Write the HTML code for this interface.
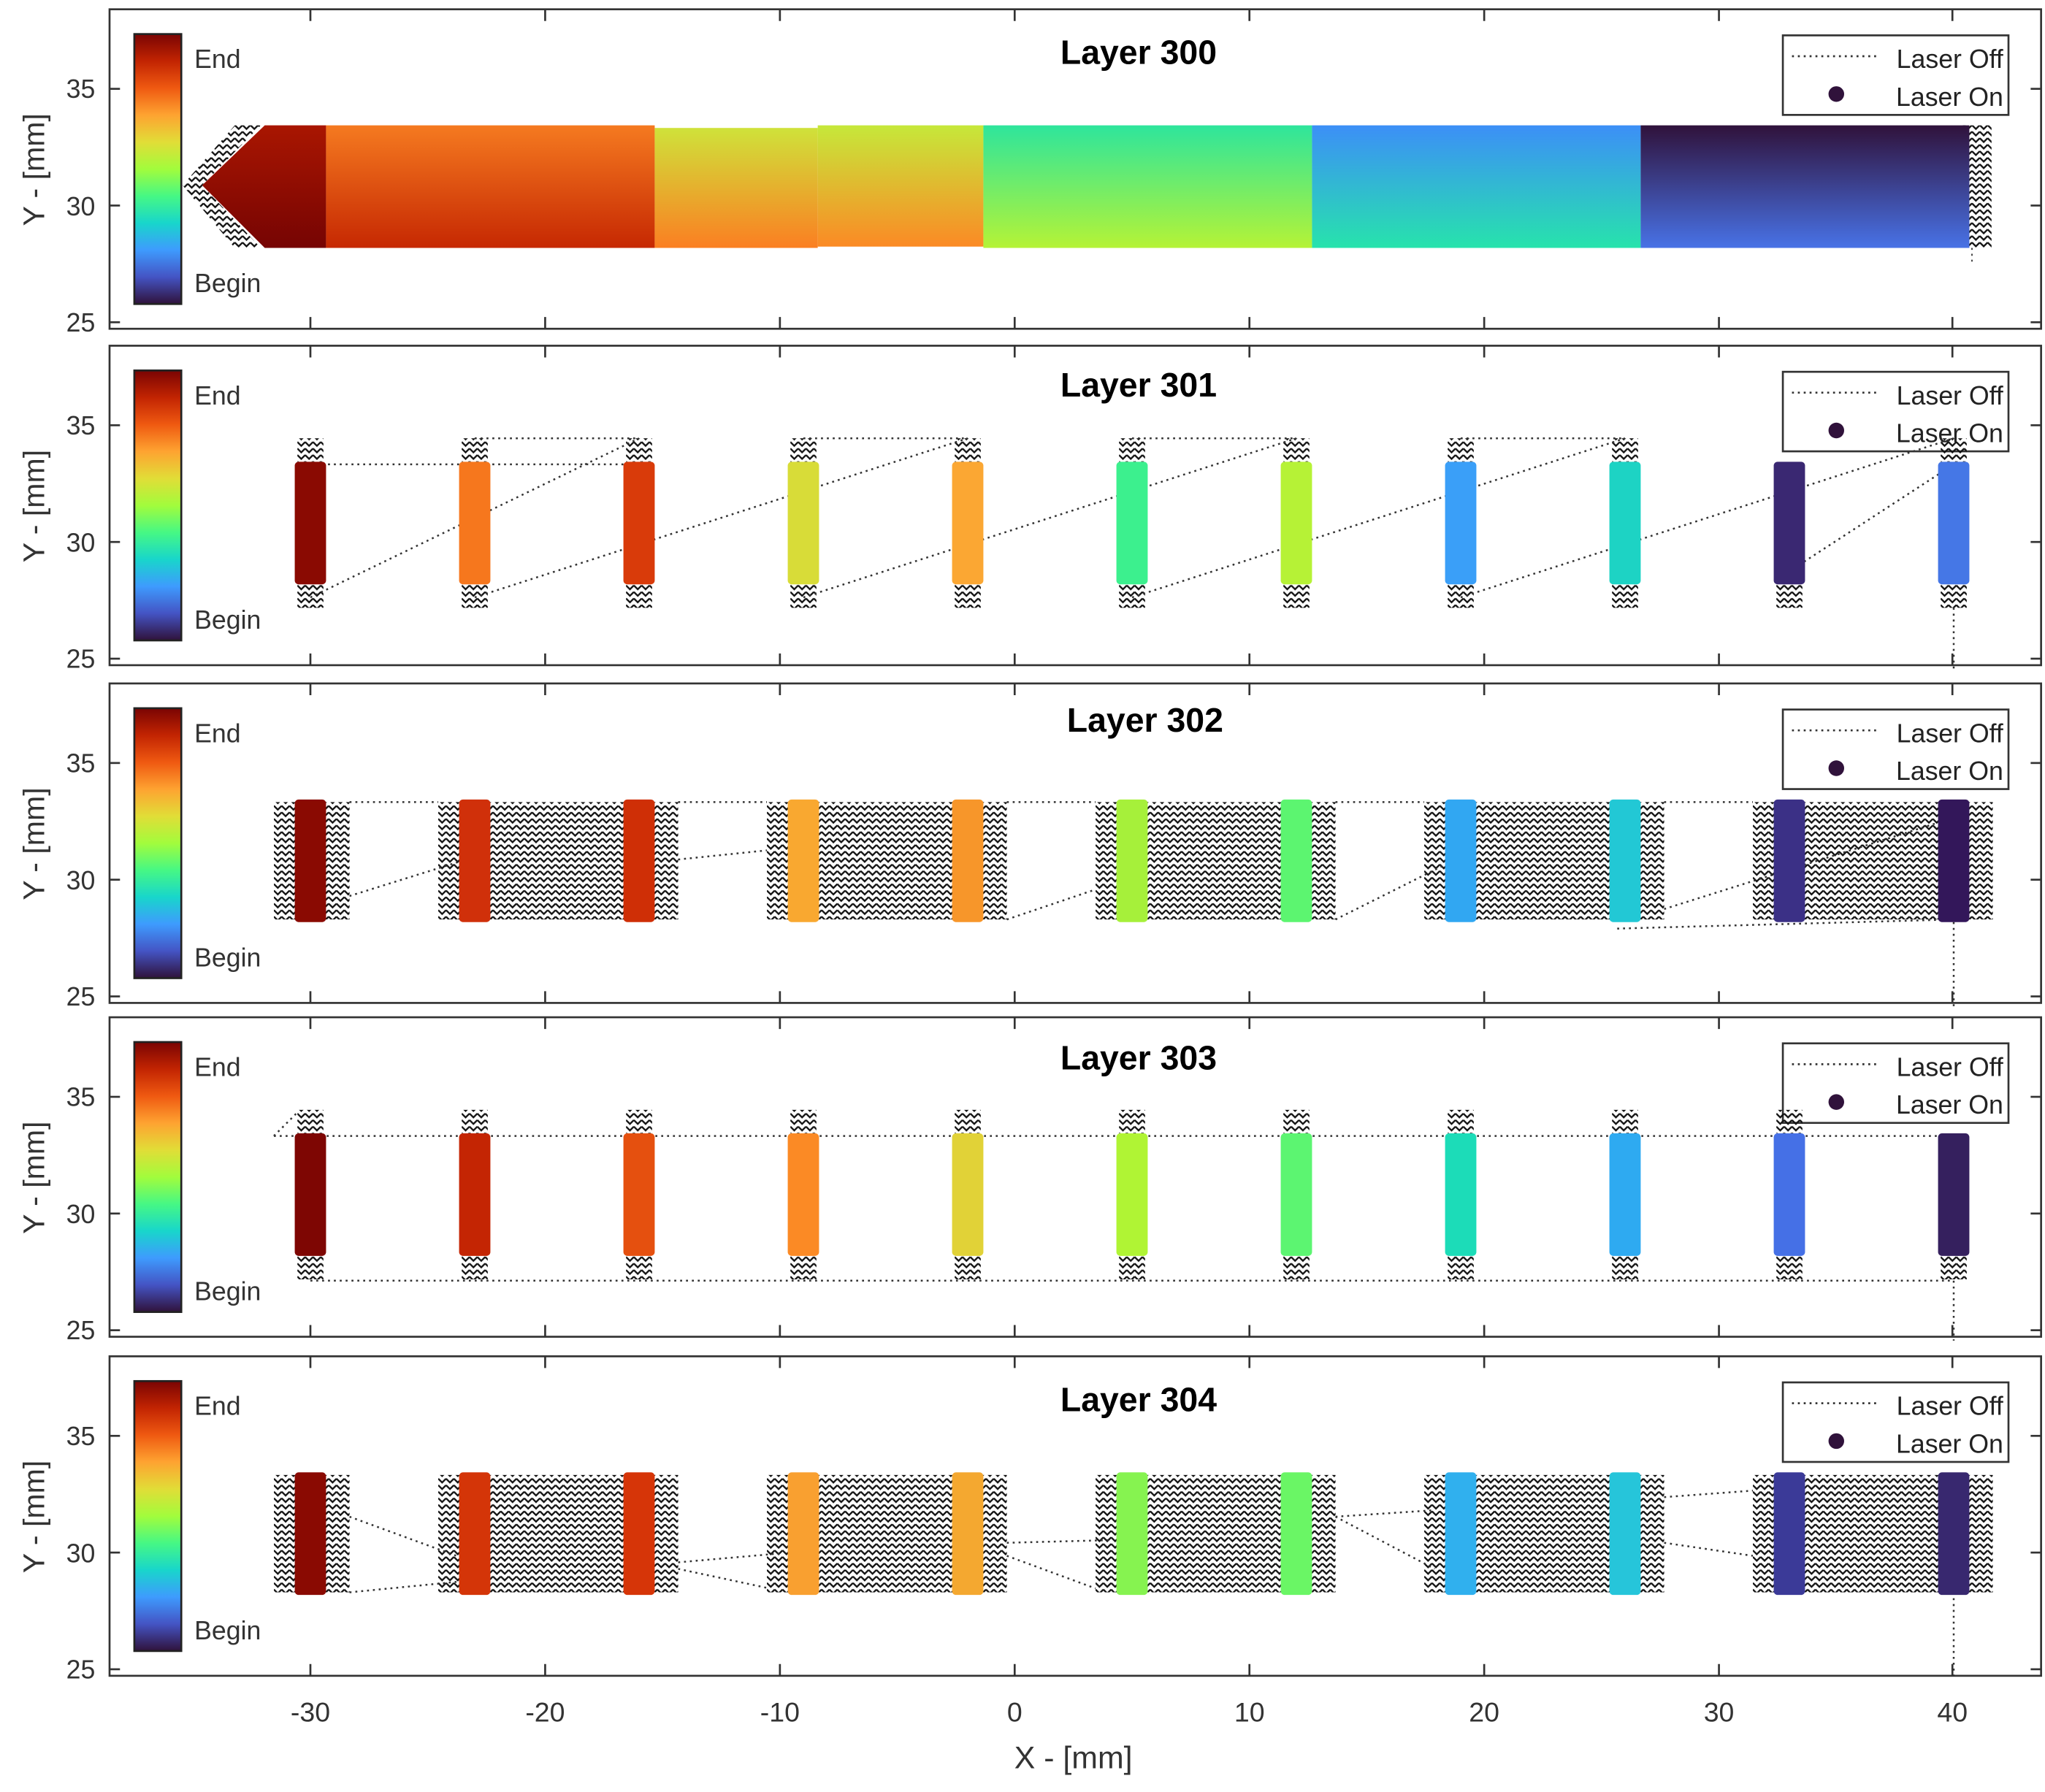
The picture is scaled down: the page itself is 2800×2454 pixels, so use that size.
<!DOCTYPE html>
<html><head><style>html,body{margin:0;padding:0;background:#fff}svg{display:block}</style></head>
<body>
<svg width="2800" height="2454" viewBox="0 0 1568 1374" xmlns="http://www.w3.org/2000/svg" font-family="Liberation Sans, sans-serif">
<defs>
<linearGradient id="cb" x1="0" y1="1" x2="0" y2="0">
<stop offset="0" stop-color="#30123b"/><stop offset="0.1" stop-color="#4454c4"/><stop offset="0.2" stop-color="#3e9bfe"/><stop offset="0.3" stop-color="#18d6cb"/><stop offset="0.4" stop-color="#46f884"/><stop offset="0.5" stop-color="#a2fc3c"/><stop offset="0.6" stop-color="#e1dd37"/><stop offset="0.7" stop-color="#fea331"/><stop offset="0.8" stop-color="#ef5911"/><stop offset="0.9" stop-color="#c22402"/><stop offset="1" stop-color="#7a0403"/></linearGradient>
<linearGradient id="s0" x1="0" y1="0" x2="0" y2="1"><stop offset="0" stop-color="#a91601"/><stop offset="1" stop-color="#760403"/></linearGradient>
<linearGradient id="s1" x1="0" y1="0" x2="0" y2="1"><stop offset="0" stop-color="#f57a20"/><stop offset="1" stop-color="#c62802"/></linearGradient>
<linearGradient id="s2" x1="0" y1="0" x2="0" y2="1"><stop offset="0" stop-color="#cfe23a"/><stop offset="1" stop-color="#fb7f22"/></linearGradient>
<linearGradient id="s3" x1="0" y1="0" x2="0" y2="1"><stop offset="0" stop-color="#c6e83a"/><stop offset="1" stop-color="#fb8a25"/></linearGradient>
<linearGradient id="s4" x1="0" y1="0" x2="0" y2="1"><stop offset="0" stop-color="#2ee59c"/><stop offset="1" stop-color="#b5f336"/></linearGradient>
<linearGradient id="s5" x1="0" y1="0" x2="0" y2="1"><stop offset="0" stop-color="#3c8ff7"/><stop offset="1" stop-color="#27e3ac"/></linearGradient>
<linearGradient id="s6" x1="0" y1="0" x2="0" y2="1"><stop offset="0" stop-color="#30123b"/><stop offset="1" stop-color="#4872e6"/></linearGradient>
<pattern id="h" width="6" height="5" patternUnits="userSpaceOnUse"><polyline points="0,0.8 3,3.8 6,0.8" fill="none" stroke="#111" stroke-width="1.3"/></pattern>
<g id="cbar">
<rect x="103" y="26" width="36" height="207" fill="url(#cb)" stroke="#222" stroke-width="1.5"/>
<text x="149" y="52" font-size="20" fill="#333">End</text>
<text x="149" y="224" font-size="20" fill="#333">Begin</text>
</g>
<g id="ax">
<rect x="84" y="7" width="1481" height="245" fill="none" stroke="#333" stroke-width="1.5"/>
<g stroke="#333" stroke-width="1.5">
<line x1="84" y1="68" x2="92" y2="68"/><line x1="84" y1="157.5" x2="92" y2="157.5"/><line x1="84" y1="247" x2="92" y2="247"/>
<line x1="1565" y1="68" x2="1557" y2="68"/><line x1="1565" y1="157.5" x2="1557" y2="157.5"/><line x1="1565" y1="247" x2="1557" y2="247"/>
<path d="M238 7v9M418 7v9M598 7v9M778 7v9M958 7v9M1138 7v9M1318 7v9M1497 7v9M238 252v-9M418 252v-9M598 252v-9M778 252v-9M958 252v-9M1138 252v-9M1318 252v-9M1497 252v-9"/>
</g>
<g font-size="20" fill="#333" text-anchor="end"><text x="73" y="75">35</text><text x="73" y="165">30</text><text x="73" y="254">25</text></g>
<text transform="translate(34,130) rotate(-90)" font-size="23" fill="#333" text-anchor="middle">Y - [mm]</text>
<rect x="1367" y="27" width="173" height="61" fill="#fff" stroke="#333" stroke-width="1.5"/>
<line x1="1374" y1="43" x2="1440" y2="43" stroke="#333" stroke-width="1.5" stroke-dasharray="1.5,3"/>
<circle cx="1408" cy="72" r="6" fill="#30123b"/>
<text x="1536" y="52" font-size="20" fill="#222" text-anchor="end">Laser Off</text>
<text x="1536" y="81" font-size="20" fill="#222" text-anchor="end">Laser On</text>
</g>
</defs>

<!-- Panel 1 -->
<g>
<use href="#ax"/>
<path d="M140,142 L180,96 L200,96 L155,142 L200,190 L180,190 Z" fill="url(#h)"/>
<rect x="1505" y="96" width="22" height="94" fill="url(#h)"/>
<path d="M1512 190 v12" stroke="#333" stroke-dasharray="1.5,3"/>
<path d="M155,142 L203,96 L250,96 L250,190 L203,190 Z" fill="url(#s0)"/>
<rect x="250" y="96" width="252" height="94" fill="url(#s1)"/>
<rect x="502" y="98" width="125" height="92" fill="url(#s2)"/>
<rect x="627" y="96" width="127" height="93" fill="url(#s3)"/>
<rect x="754" y="96" width="252" height="94" fill="url(#s4)"/>
<rect x="1006" y="96" width="252" height="94" fill="url(#s5)"/>
<rect x="1258" y="96" width="252" height="94" fill="url(#s6)"/>
<use href="#cbar"/>
<text x="873" y="49" font-size="26" font-weight="bold" text-anchor="middle">Layer 300</text>
</g>

<!-- Panel 2 -->
<g transform="translate(0,258)">
<use href="#ax"/>
<g fill="url(#h)">
<rect x="228" y="78" width="20" height="18"/><rect x="354" y="78" width="20" height="18"/><rect x="480" y="78" width="20" height="18"/><rect x="606" y="78" width="20" height="18"/><rect x="732" y="78" width="20" height="18"/><rect x="858" y="78" width="20" height="18"/><rect x="984" y="78" width="20" height="18"/><rect x="1110" y="78" width="20" height="18"/><rect x="1236" y="78" width="20" height="18"/><rect x="1488" y="78" width="20" height="18"/>
<rect x="228" y="190" width="20" height="18"/><rect x="354" y="190" width="20" height="18"/><rect x="480" y="190" width="20" height="18"/><rect x="606" y="190" width="20" height="18"/><rect x="732" y="190" width="20" height="18"/><rect x="858" y="190" width="20" height="18"/><rect x="984" y="190" width="20" height="18"/><rect x="1110" y="190" width="20" height="18"/><rect x="1236" y="190" width="20" height="18"/><rect x="1362" y="190" width="20" height="18"/><rect x="1488" y="190" width="20" height="18"/>
</g>
<g stroke="#333" stroke-width="1.4" stroke-dasharray="1.5,3" fill="none">
<path d="M238 98 H490 M364 78 H490 M616 78 H742 M868 78 H994 M1120 78 H1246"/>
<path d="M238 200 L490 78 M364 200 L742 78 M616 200 L994 78 M868 200 L1246 78 M1120 200 L1498 78 M1372 180 L1498 98 M1498 208 V255"/>
</g>
<g>
<rect x="226" y="96" width="24" height="94" rx="3" fill="#8a0a02"/>
<rect x="352" y="96" width="24" height="94" rx="3" fill="#f6771d"/>
<rect x="478" y="96" width="24" height="94" rx="3" fill="#d93b0a"/>
<rect x="604" y="96" width="24" height="94" rx="3" fill="#d8dc38"/>
<rect x="730" y="96" width="24" height="94" rx="3" fill="#fba733"/>
<rect x="856" y="96" width="24" height="94" rx="3" fill="#3cf08e"/>
<rect x="982" y="96" width="24" height="94" rx="3" fill="#b6f236"/>
<rect x="1108" y="96" width="24" height="94" rx="3" fill="#3a9ff8"/>
<rect x="1234" y="96" width="24" height="94" rx="3" fill="#1dd3c4"/>
<rect x="1360" y="96" width="24" height="94" rx="3" fill="#3a2872"/>
<rect x="1486" y="96" width="24" height="94" rx="3" fill="#4577e6"/>
</g>
<use href="#cbar"/>
<text x="873" y="46" font-size="26" font-weight="bold" text-anchor="middle">Layer 301</text>
</g>

<!-- Panel 3 -->
<g transform="translate(0,517)">
<use href="#ax"/>
<g fill="url(#h)">
<rect x="210" y="98" width="58" height="90"/><rect x="336" y="98" width="184" height="90"/><rect x="588" y="98" width="184" height="90"/><rect x="840" y="98" width="184" height="90"/><rect x="1092" y="98" width="184" height="90"/><rect x="1344" y="98" width="184" height="90"/>
</g>
<g stroke="#333" stroke-width="1.4" stroke-dasharray="1.5,3" fill="none">
<path d="M268 98 H336 M520 98 H588 M772 98 H840 M1024 98 H1092 M1276 98 H1344 M1240 195 L1498 188 M1498 190 V255"/>
<path d="M268 170 L364 140 M520 142 L588 135 M772 188 L840 165 M1024 188 L1120 140 M1276 180 L1498 110"/>
</g>
<g>
<rect x="226" y="96" width="24" height="94" rx="3" fill="#8a0a02"/>
<rect x="352" y="96" width="24" height="94" rx="3" fill="#d0300a"/>
<rect x="478" y="96" width="24" height="94" rx="3" fill="#cf2f06"/>
<rect x="604" y="96" width="24" height="94" rx="3" fill="#f9a830"/>
<rect x="730" y="96" width="24" height="94" rx="3" fill="#f7962a"/>
<rect x="856" y="96" width="24" height="94" rx="3" fill="#a6f03a"/>
<rect x="982" y="96" width="24" height="94" rx="3" fill="#5cf570"/>
<rect x="1108" y="96" width="24" height="94" rx="3" fill="#31a7f2"/>
<rect x="1234" y="96" width="24" height="94" rx="3" fill="#22c8d5"/>
<rect x="1360" y="96" width="24" height="94" rx="3" fill="#3b3086"/>
<rect x="1486" y="96" width="24" height="94" rx="3" fill="#33175a"/>
</g>
<use href="#cbar"/>
<text x="878" y="44" font-size="26" font-weight="bold" text-anchor="middle">Layer 302</text>
</g>

<!-- Panel 4 -->
<g transform="translate(0,773)">
<use href="#ax"/>
<g fill="url(#h)">
<rect x="228" y="78" width="20" height="18"/><rect x="354" y="78" width="20" height="18"/><rect x="480" y="78" width="20" height="18"/><rect x="606" y="78" width="20" height="18"/><rect x="732" y="78" width="20" height="18"/><rect x="858" y="78" width="20" height="18"/><rect x="984" y="78" width="20" height="18"/><rect x="1110" y="78" width="20" height="18"/><rect x="1236" y="78" width="20" height="18"/><rect x="1362" y="78" width="20" height="18"/>
<rect x="228" y="190" width="20" height="18"/><rect x="354" y="190" width="20" height="18"/><rect x="480" y="190" width="20" height="18"/><rect x="606" y="190" width="20" height="18"/><rect x="732" y="190" width="20" height="18"/><rect x="858" y="190" width="20" height="18"/><rect x="984" y="190" width="20" height="18"/><rect x="1110" y="190" width="20" height="18"/><rect x="1236" y="190" width="20" height="18"/><rect x="1362" y="190" width="20" height="18"/><rect x="1488" y="190" width="20" height="18"/>
</g>
<g stroke="#333" stroke-width="1.4" stroke-dasharray="1.5,3" fill="none">
<path d="M210 98 H1498 M210 98 L228 80 M238 209 H1498 M1498 209 V255"/>
</g>
<g>
<rect x="226" y="96" width="24" height="94" rx="3" fill="#7e0603"/>
<rect x="352" y="96" width="24" height="94" rx="3" fill="#c42503"/>
<rect x="478" y="96" width="24" height="94" rx="3" fill="#e5500f"/>
<rect x="604" y="96" width="24" height="94" rx="3" fill="#fb8a25"/>
<rect x="730" y="96" width="24" height="94" rx="3" fill="#e1d237"/>
<rect x="856" y="96" width="24" height="94" rx="3" fill="#b0f434"/>
<rect x="982" y="96" width="24" height="94" rx="3" fill="#5cf571"/>
<rect x="1108" y="96" width="24" height="94" rx="3" fill="#1cdcb8"/>
<rect x="1234" y="96" width="24" height="94" rx="3" fill="#2eaaf1"/>
<rect x="1360" y="96" width="24" height="94" rx="3" fill="#4570e6"/>
<rect x="1486" y="96" width="24" height="94" rx="3" fill="#35205e"/>
</g>
<use href="#cbar"/>
<text x="873" y="47" font-size="26" font-weight="bold" text-anchor="middle">Layer 303</text>
</g>

<!-- Panel 5 -->
<g transform="translate(0,1033)">
<use href="#ax"/>
<g fill="url(#h)">
<rect x="210" y="98" width="58" height="90"/><rect x="336" y="98" width="184" height="90"/><rect x="588" y="98" width="184" height="90"/><rect x="840" y="98" width="184" height="90"/><rect x="1092" y="98" width="184" height="90"/><rect x="1344" y="98" width="184" height="90"/>
</g>
<g stroke="#333" stroke-width="1.4" stroke-dasharray="1.5,3" fill="none">
<path d="M268 130 L350 160 M268 188 L350 180 M520 165 L600 158 M520 170 L590 185 M772 150 L850 148 M772 160 L840 185 M1024 130 L1100 125 M1024 130 L1100 170 M1276 115 L1344 110 M1276 150 L1344 160 M1498 188 V255"/>
</g>
<g>
<rect x="226" y="96" width="24" height="94" rx="3" fill="#8a0a02"/>
<rect x="352" y="96" width="24" height="94" rx="3" fill="#d43508"/>
<rect x="478" y="96" width="24" height="94" rx="3" fill="#d63508"/>
<rect x="604" y="96" width="24" height="94" rx="3" fill="#f9a030"/>
<rect x="730" y="96" width="24" height="94" rx="3" fill="#f4a830"/>
<rect x="856" y="96" width="24" height="94" rx="3" fill="#86f350"/>
<rect x="982" y="96" width="24" height="94" rx="3" fill="#6af665"/>
<rect x="1108" y="96" width="24" height="94" rx="3" fill="#30b0ee"/>
<rect x="1234" y="96" width="24" height="94" rx="3" fill="#26c5da"/>
<rect x="1360" y="96" width="24" height="94" rx="3" fill="#3b3a98"/>
<rect x="1486" y="96" width="24" height="94" rx="3" fill="#38286f"/>
</g>
<use href="#cbar"/>
<text x="873" y="49" font-size="26" font-weight="bold" text-anchor="middle">Layer 304</text>
</g>

<!-- X axis labels -->
<g font-size="21" fill="#333" text-anchor="middle">
<text x="238" y="1320">-30</text><text x="418" y="1320">-20</text><text x="598" y="1320">-10</text><text x="778" y="1320">0</text><text x="958" y="1320">10</text><text x="1138" y="1320">20</text><text x="1318" y="1320">30</text><text x="1497" y="1320">40</text>
</g>
<text x="823" y="1356" font-size="24" fill="#333" text-anchor="middle">X - [mm]</text>
</svg>
</body></html>
